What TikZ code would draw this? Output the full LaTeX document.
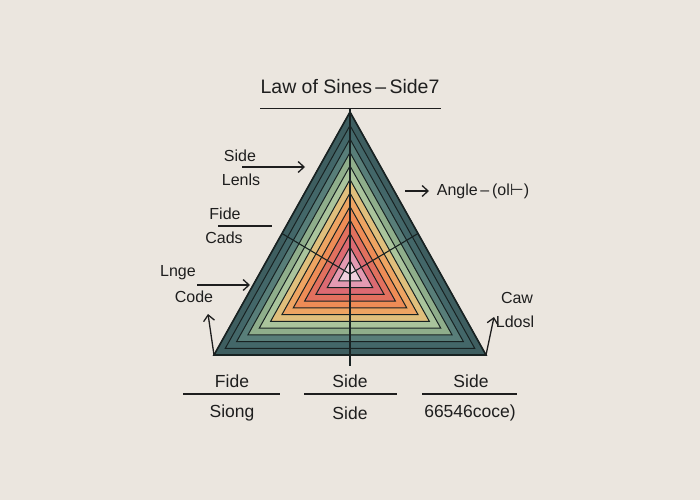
\documentclass[tikz,border=0pt]{standalone}
\usepackage{fontspec}
\setmainfont{Liberation Sans}
\newfontfamily\symfont{DejaVu Sans}
\usepackage{tikz}
\usetikzlibrary{arrows}
\usetikzlibrary{arrows.meta}
\usetikzlibrary{calc}
\usetikzlibrary{positioning}
\definecolor{paper}{HTML}{EBE6DF}
\definecolor{ink}{HTML}{1E1E1E}
\definecolor{edge}{HTML}{182222}
\definecolor{bandA}{HTML}{3E5E60}
\definecolor{bandB}{HTML}{436769}
\definecolor{bandC}{HTML}{587E79}
\definecolor{bandD}{HTML}{8FAE8B}
\definecolor{bandE}{HTML}{AAC49C}
\definecolor{bandF}{HTML}{E0BF7C}
\definecolor{bandG}{HTML}{EEA462}
\definecolor{bandH}{HTML}{EE8C56}
\definecolor{bandI}{HTML}{E2705E}
\definecolor{bandJ}{HTML}{DC6A72}
\definecolor{bandK}{HTML}{E39AB2}
\definecolor{bandL}{HTML}{F0CFDE}
\tikzset{
    arrow/.style={-{Straight Barb[length=6pt, width=11pt]}, line width=1.3pt, ink},
    rule/.style={line width=1.3pt, ink},
    band/.style={draw=edge, line width=1pt, line join=miter},
    lbl/.style={
      text=ink,
      inner sep=0pt,
      font=\fontsize{16}{19}\selectfont
    },
    frac/.style={
      text=ink,
      inner sep=0pt,
      font=\fontsize{17.5}{20}\selectfont
    },
}
\begin{document}
\begin{tikzpicture}[x=1pt, y=-1pt, node distance=14pt]
      \fill [paper] (0,0) rectangle (700,500);
      \useasboundingbox (0,0) rectangle (700,500);

      % corners of the triangle
      \coordinate (A) at (350,112);
      \coordinate (B) at (214,355);
      \coordinate (C) at (486,355);
      \coordinate (G) at (barycentric cs:A=1,B=1,C=1);

      % nested bands
      \foreach \col [count=\i from 0] in
          {bandA,bandB,bandC,bandD,bandE,bandF,bandG,bandH,bandI,bandJ,bandK,bandL} {
        \pgfmathsetmacro\s{1-\i/12}
        \draw [band, fill=\col] ($(G)!\s!(A)$) -- ($(G)!\s!(B)$)
              -- ($(G)!\s!(C)$) -- cycle;
      }
      \draw [band, line width=1.6pt] (A) -- (B) -- (C) -- cycle;

      % title
      \node [lbl, font=\fontsize{19.5}{22}\selectfont] (title) at (350,87)
            {Law of Sines\,–\,Side7};
      \coordinate (tl) at (260,108.5);
      \coordinate (tr) at (441,108.5);
      \coordinate (top) at (350,108.5);
      \coordinate (foot) at (350,366);
      \draw [rule] (tl) -- (tr);
      \draw [band, line width=1.1pt] (top) -- (foot);
      \draw [band, line width=1.1pt] (G) -- ($(A)!0.5!(B)$)
            (G) -- ($(A)!0.5!(C)$);

      % labels on the left
      \node [lbl] (side) at (240,156) {Side};
      \node [lbl] (lenls) at (241,180) {Lenls};
      \node [lbl] (fide) at (225,214) {Fide};
      \node [lbl] (cads) at (224,238) {Cads};
      \node [lbl] (lnge) at (178,273) {Lnge};
      \node [lbl] (code) at (194,297) {Code};
      \coordinate (s1) at (242,167);
      \coordinate (s2) at (305,167);
      \coordinate (f1) at (218,226);
      \coordinate (f2) at (272,226);
      \coordinate (l1) at (197,285);
      \coordinate (l2) at (250,285);
      \coordinate (bl) at (208,314);
      \draw [arrow] (s1) -- (s2);
      \draw [rule] (f1) -- (f2);
      \draw [arrow] (l1) -- (l2);
      \draw [arrow] (B) -- (bl);

      % labels on the right
      \node [lbl] (angle) at (483,191) {Angle\,–\,(ol{\symfont ⊢})};
      \coordinate (a1) at (405,191);
      \coordinate (a2) at (429,191);
      \draw [arrow] (a1) -- (a2);
      \node [lbl] (caw) at (517,298) {Caw};
      \node [lbl] (ldosl) at (515,322) {Ldosl};
      \coordinate (br) at (494,317);
      \draw [arrow] (C) -- (br);

      % fractions below
      \node [frac] (fideb) at (232,381) {Fide};
      \node [frac] (siong) at (232,413) {Siong};
      \node [frac] (sidea) at (350,381) {Side};
      \node [frac] (sideb) at (350,413) {Side};
      \node [frac] (sidec) at (471,381) {Side};
      \node [frac] (num) at (470,413) {66546coce)};
      \draw [rule] (183,394) -- (280,394)
            (304,394) -- (397,394)
            (422,394) -- (517,394);
\end{tikzpicture}
\end{document}
